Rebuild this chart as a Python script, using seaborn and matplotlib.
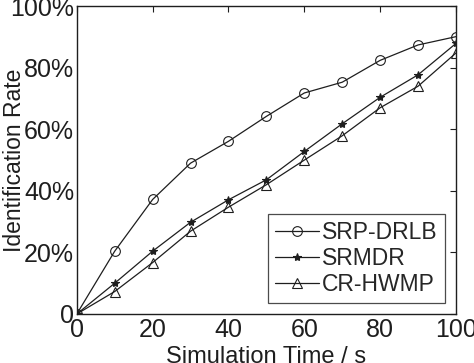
import numpy as np
import pandas as pd
import seaborn as sns
import matplotlib
matplotlib.use('Agg')
import matplotlib.pyplot as plt
from matplotlib.ticker import FuncFormatter

# data
time = [0, 10, 20, 30, 40, 50, 60, 70, 80, 90, 100]
srp_drlb = [0, 20.4, 37.2, 49.0, 56.1, 64.2, 71.8, 75.3, 82.4, 87.4, 90.1]
srmdr = [0, 10.0, 20.4, 29.8, 37.1, 43.6, 52.8, 61.8, 70.4, 77.7, 87.9]
cr_hwmp = [0, 7.3, 16.7, 26.9, 34.7, 42.0, 50.0, 57.9, 67.0, 74.0, 84.8]

series = ['SRP-DRLB', 'SRMDR', 'CR-HWMP']
markers = ['o', '*', '^']

df = pd.DataFrame({'time': time * 3,
                   'rate': srp_drlb + srmdr + cr_hwmp,
                   'method': [s for s in series for _ in time]})

sns.set_theme(style='white')
plt.rcParams['font.family'] = ['Liberation Sans', 'DejaVu Sans']

fig = plt.figure(figsize=(4.74, 3.63), dpi=100)
ax = fig.add_axes([0.162, 0.135, 0.8, 0.848])

col = '#1e1e1e'
for name, mk in zip(series, markers):
    sub = df[df['method'] == name]
    sns.lineplot(data=sub, x='time', y='rate', ax=ax, color=col, lw=0.9,
                 marker=mk, markersize=7 if mk != '*' else 6,
                 markerfacecolor='none' if mk != '*' else col,
                 markeredgecolor=col, markeredgewidth=0.8, label=name)

ax.set_xlim(0, 100)
ax.set_ylim(0, 100)
ax.set_xticks([0, 20, 40, 60, 80, 100])
ax.set_yticks([0, 20, 40, 60, 80, 100])
ax.yaxis.set_major_formatter(FuncFormatter(lambda v, p: '0' if v == 0 else f'{v:.0f}%'))
ax.tick_params(direction='in', top=True, right=True, length=4, width=0.8,
               labelsize=18, colors=col, pad=2)
ax.tick_params(axis='x', pad=3)
for sp in ax.spines.values():
    sp.set_color(col)
    sp.set_linewidth(1.0)

ax.set_xlabel('Simulation Time / s', fontsize=17, color=col)
ax.set_ylabel('Identification Rate', fontsize=16.5, color=col)
ax.xaxis.set_label_coords(0.5, -0.105)
ax.yaxis.set_label_coords(-0.135, 0.5)

leg = ax.legend(loc='lower right', fontsize=16.5, frameon=True, fancybox=False,
                edgecolor=col, borderpad=0.3, labelspacing=0.12,
                handlelength=1.9, handletextpad=0.15, borderaxespad=0.5)
leg.get_frame().set_linewidth(0.9)

fig.savefig('out.png', dpi=100)
